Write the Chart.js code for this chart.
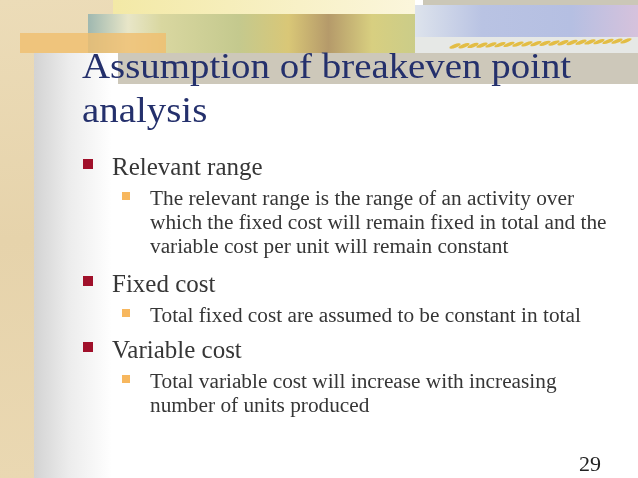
<!DOCTYPE html>
<html>
<head>
<meta charset="utf-8">
<script src="https://cdn.jsdelivr.net/npm/chart.js@4/dist/chart.umd.min.js"></script>
<style>
  html, body { margin: 0; padding: 0; background: #fff; }
  #slide { position: relative; width: 638px; height: 478px; overflow: hidden; }
  #bg { position: absolute; left: 0; top: 0; }
  .txt { position: absolute; white-space: nowrap; font-family: "Liberation Serif", "Times New Roman", serif; line-height: 1; transform-origin: left top; }
  .title { color: #24306c; font-size: 36px; left: 82px; transform: scaleX(1.08); }
  .l1 { color: #363636; font-size: 25px; left: 112px; }
  .l2 { color: #363636; font-size: 21.3px; left: 150px; }
  .b1 { position: absolute; width: 10px; height: 10px; background: #a0102a; left: 83px; }
  .b2 { position: absolute; width: 8px; height: 8px; background: #f7b75e; left: 122px; }
  .num { color: #222; font-size: 22px; left: 579px; }
</style>
</head>
<body>
<div id="slide">
  <canvas id="bg" width="638" height="478"></canvas>
</div>
<script>
// slide text
const titleLines = ['Assumption of breakeven point', 'analysis'];
const headings = ['Relevant range', 'Fixed cost', 'Variable cost'];
const details = [
    ['The relevant range is the range of an activity over',
     'which the fixed cost will remain fixed in total and the',
     'variable cost per unit will remain constant'],
    ['Total fixed cost are assumed to be constant in total'],
    ['Total variable cost will increase with increasing',
     'number of units produced']
];
const pageNumber = '29';

// layout (baselines in px)
const titleBase = [78, 122];
const headBase = [175, 292, 358];
const detailBase = [[206, 230, 254], [323], [389, 413]];

// background decoration drawn on the chart canvas
const slideDecor = {
    id: 'slideDecor',
    beforeDraw(chart) {
        const c = chart.ctx;
        c.save();
        c.fillStyle = '#fff';
        c.fillRect(0, 0, 638, 478);

        // beige paper strip + top-left corner
        let g = c.createLinearGradient(0, 0, 40, 478);
        g.addColorStop(0, '#ecdcb8');
        g.addColorStop(0.5, '#e6d3ab');
        g.addColorStop(1, '#ead8b2');
        c.fillStyle = g;
        c.fillRect(0, 0, 34, 478);
        c.fillRect(0, 0, 118, 53);

        // gray fade into white
        g = c.createLinearGradient(34, 0, 112, 0);
        g.addColorStop(0, '#d3d3d3');
        g.addColorStop(0.45, '#ececec');
        g.addColorStop(1, '#ffffff');
        c.fillStyle = g;
        c.fillRect(34, 53, 80, 425);

        // pale yellow top bar
        g = c.createLinearGradient(113, 0, 415, 0);
        g.addColorStop(0, '#f3e9a6');
        g.addColorStop(1, '#fbf6dc');
        c.fillStyle = g;
        c.fillRect(113, 0, 302, 14);

        // leaf photo band
        g = c.createLinearGradient(88, 0, 422, 0);
        g.addColorStop(0, '#9fb8b0');
        g.addColorStop(0.12, '#e8e6c8');
        g.addColorStop(0.22, '#d9d7a0');
        g.addColorStop(0.45, '#c4c98e');
        g.addColorStop(0.6, '#d9c777');
        g.addColorStop(0.72, '#b59a6a');
        g.addColorStop(0.85, '#d8cf80');
        g.addColorStop(1, '#c9cc8a');
        c.fillStyle = g;
        c.fillRect(88, 14, 334, 39);

        // orange strip
        c.fillStyle = 'rgba(240, 190, 110, 0.8)';
        c.fillRect(20, 33, 146, 20);

        // top right gray line
        c.fillStyle = '#cbc7b7';
        c.fillRect(423, 0, 215, 5);

        // blue flower band
        g = c.createLinearGradient(415, 0, 638, 0);
        g.addColorStop(0, '#dde3ec');
        g.addColorStop(0.3, '#b9c3e3');
        g.addColorStop(0.7, '#b5bfe2');
        g.addColorStop(1, '#d6c2dc');
        c.fillStyle = g;
        c.fillRect(415, 5, 223, 32);
        c.fillStyle = '#e6e8e6';
        c.fillRect(415, 37, 223, 16);

        // wheat ear
        c.fillStyle = '#e3bd45';
        for (let x = 455; x < 630; x += 9) {
            c.beginPath();
            c.ellipse(x, 46 - (x - 455) * 0.03, 6, 1.8, -0.35, 0, Math.PI * 2);
            c.fill();
        }

        // gray band behind title
        c.fillStyle = '#cdc8ba';
        c.fillRect(118, 53, 520, 31);
        c.restore();
    }
};

new Chart(document.getElementById('bg'), {
    type: 'bar',
    data: { labels: [], datasets: [] },
    options: {
        responsive: false,
        animation: false,
        events: [],
        plugins: { legend: { display: false }, tooltip: { enabled: false } },
        scales: { x: { display: false }, y: { display: false } }
    },
    plugins: [slideDecor]
});

const slide = document.getElementById('slide');

function addText(cls, text, baseline, size) {
    const d = document.createElement('div');
    d.className = 'txt ' + cls;
    d.textContent = text;
    // Liberation Serif baseline sits ~0.8375em below box top at line-height 1
    d.style.top = (baseline - size * 0.8375) + 'px';
    slide.appendChild(d);
}

function addBullet(cls, top) {
    const b = document.createElement('div');
    b.className = cls;
    b.style.top = top + 'px';
    slide.appendChild(b);
}

titleLines.forEach((t, i) => addText('title', t, titleBase[i], 36));

headings.forEach((h, i) => {
    addBullet('b1', headBase[i] - 16);
    addText('l1', h, headBase[i], 25);
    details[i].forEach((line, j) => {
        if (j === 0) addBullet('b2', detailBase[i][j] - 14);
        addText('l2', line, detailBase[i][j], 21.3);
    });
});

addText('num', pageNumber, 471, 22);
</script>
</body>
</html>
